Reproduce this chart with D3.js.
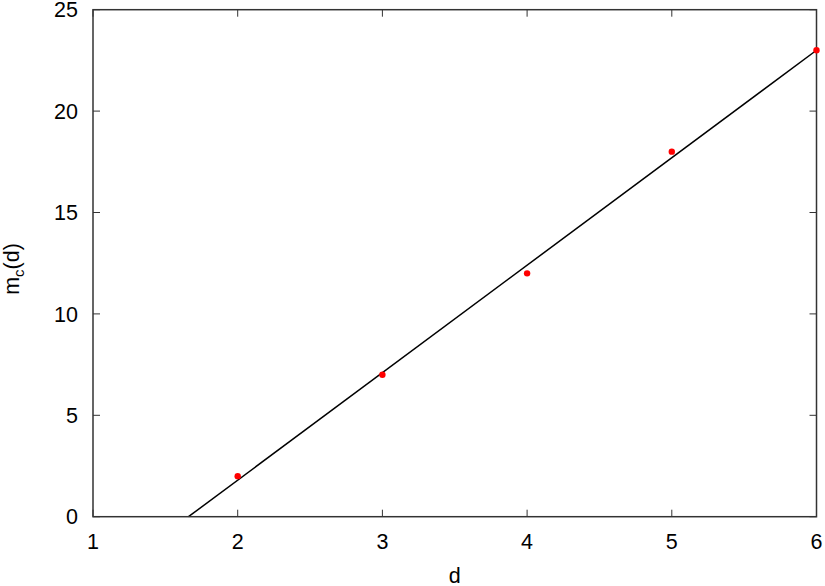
<!DOCTYPE html>
<html><head><meta charset="utf-8">
<script src="https://cdn.jsdelivr.net/npm/d3@7"></script>
<style>body{margin:0;background:#fff}svg{display:block}</style>
</head><body>
<script>
const dValues = [2, 3, 4, 5, 6];
const mcValues = [2, 7, 12, 18, 23];
const fitX = [1.66, 6];
const fitY = [0, 23];
const xTicks = [1, 2, 3, 4, 5, 6];
const yTicks = [0, 5, 10, 15, 20, 25];

const W = 825, H = 586;
const m = {left: 93, right: 825 - 816.5, top: 9.7, bottom: 586 - 516.7};
const svg = d3.select("body").append("svg").attr("width", W).attr("height", H);
const x = d3.scaleLinear().domain([1, 6]).range([m.left, W - m.right]);
const y = d3.scaleLinear().domain([0, 25]).range([H - m.bottom, m.top]);
const font = "Liberation Sans, Arial, sans-serif";
const axisCol = "#333";
const fs = 21.5;

// ticks (inward, mirrored)
const tl = 7;
const g = svg.append("g").attr("stroke", axisCol).attr("stroke-width", 1);
xTicks.forEach(t => {
  g.append("line").attr("x1", x(t)).attr("x2", x(t)).attr("y1", y(0)).attr("y2", y(0) - tl);
  g.append("line").attr("x1", x(t)).attr("x2", x(t)).attr("y1", y(25)).attr("y2", y(25) + tl);
});
yTicks.forEach(t => {
  g.append("line").attr("x1", x(1)).attr("x2", x(1) + tl).attr("y1", y(t)).attr("y2", y(t));
  g.append("line").attr("x1", x(6)).attr("x2", x(6) - tl).attr("y1", y(t)).attr("y2", y(t));
});

// fit line
const fit = fitX.map((v, i) => ({x: v, y: fitY[i]}));
svg.append("path").datum(fit)
  .attr("d", d3.line().x(d => x(d.x)).y(d => y(d.y)))
  .attr("fill", "none").attr("stroke", "#000").attr("stroke-width", 1.5);

// border
svg.append("rect").attr("x", x(1)).attr("y", y(25))
  .attr("width", x(6) - x(1)).attr("height", y(0) - y(25))
  .attr("fill", "none").attr("stroke", axisCol).attr("stroke-width", 1.5);

// points
svg.selectAll("circle.pt").data(dValues).enter().append("circle")
  .attr("cx", (d) => x(d)).attr("cy", (d, i) => y(mcValues[i]))
  .attr("r", 3.2).attr("fill", "#f00");

// tick labels
svg.selectAll("text.xt").data(xTicks).enter().append("text")
  .attr("x", d => x(d)).attr("y", 549).attr("text-anchor", "middle")
  .attr("font-family", font).attr("font-size", fs).text(d => d);
svg.selectAll("text.yt").data(yTicks).enter().append("text")
  .attr("x", 78).attr("y", d => y(d) + 7.7).attr("text-anchor", "end")
  .attr("font-family", font).attr("font-size", fs).text(d => d);

// axis titles
svg.append("text").attr("x", x(3.5)).attr("y", 583).attr("text-anchor", "middle")
  .attr("font-family", font).attr("font-size", fs).text("d");
const yl = svg.append("text").attr("transform", "translate(19,269) rotate(-90)")
  .attr("text-anchor", "middle").attr("font-family", font).attr("font-size", fs);
yl.append("tspan").text("m");
yl.append("tspan").attr("font-size", 15).attr("dy", 5).text("c");
yl.append("tspan").attr("dy", -5).text("(d)");
</script>
</body></html>
